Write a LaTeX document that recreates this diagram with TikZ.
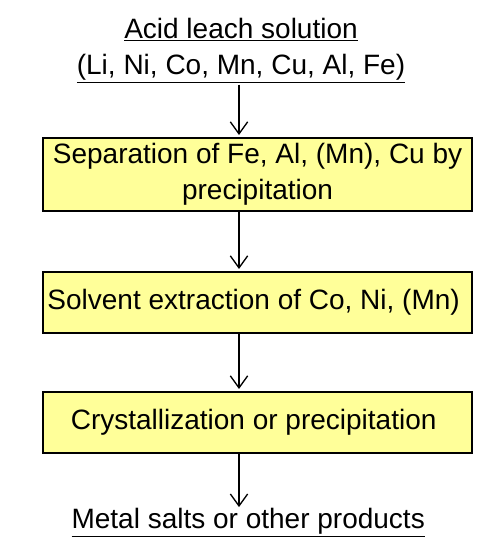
\documentclass[tikz,border=0pt]{standalone}
\usepackage{fontspec}
\setmainfont{Liberation Sans}
\usepackage{xcolor}
\usepackage{tikz}
\usetikzlibrary{positioning,arrows.meta}
\tikzset{c-box/.style={rectangle, minimum width=322pt, minimum height=46pt, text centered, align=center, draw=black, line width=1.3pt, fill=c_step},
c-label/.style={align=center, inner sep=1pt},
arrow/.style={line width=1pt,->,>={Straight Barb[length=9pt,width=13pt]}}}
\definecolor{c_step}{rgb}{1.0, 1.0, 0.6}

\begin{document}
\begin{tikzpicture}[node distance = 90pt, font=\fontsize{21}{27}\selectfont]
\useasboundingbox (0,0) rectangle (366pt,412.5pt);
\coordinate (ax) at (179.25pt,0);
\node (n0) [c-label] at (180.75pt,374.5pt) {
\underline{Acid leach solution}\\
\underline{(Li, Ni, Co, Mn, Cu, Al, Fe)}
};
\node (n1) [c-box, below of=n0, xshift=12.4pt, yshift=-2.9pt, minimum height=55pt] {
Separation of Fe, Al, (Mn), Cu by\\
precipitation
};
\node (n2) [c-box, below of=n1, yshift=-6pt] {
Solvent extraction of Co, Ni, (Mn)
};
\node (n3) [c-box, below of=n2] {
Crystallization or precipitation
};
\node (n4) [c-label, below of=n3, xshift=-4.1pt, yshift=14.6pt] {
\underline{Metal salts or other products}
};
\draw [arrow] (n0.south -| ax) -- ([yshift=1.5pt]n1.north -| ax);
\draw [arrow] (n1.south -| ax) -- ([yshift=1.5pt]n2.north -| ax);
\draw [arrow] (n2.south -| ax) -- ([yshift=1.5pt]n3.north -| ax);
\draw [arrow] (n3.south -| ax) -- (n4.north -| ax);
\end{tikzpicture}
\end{document}
